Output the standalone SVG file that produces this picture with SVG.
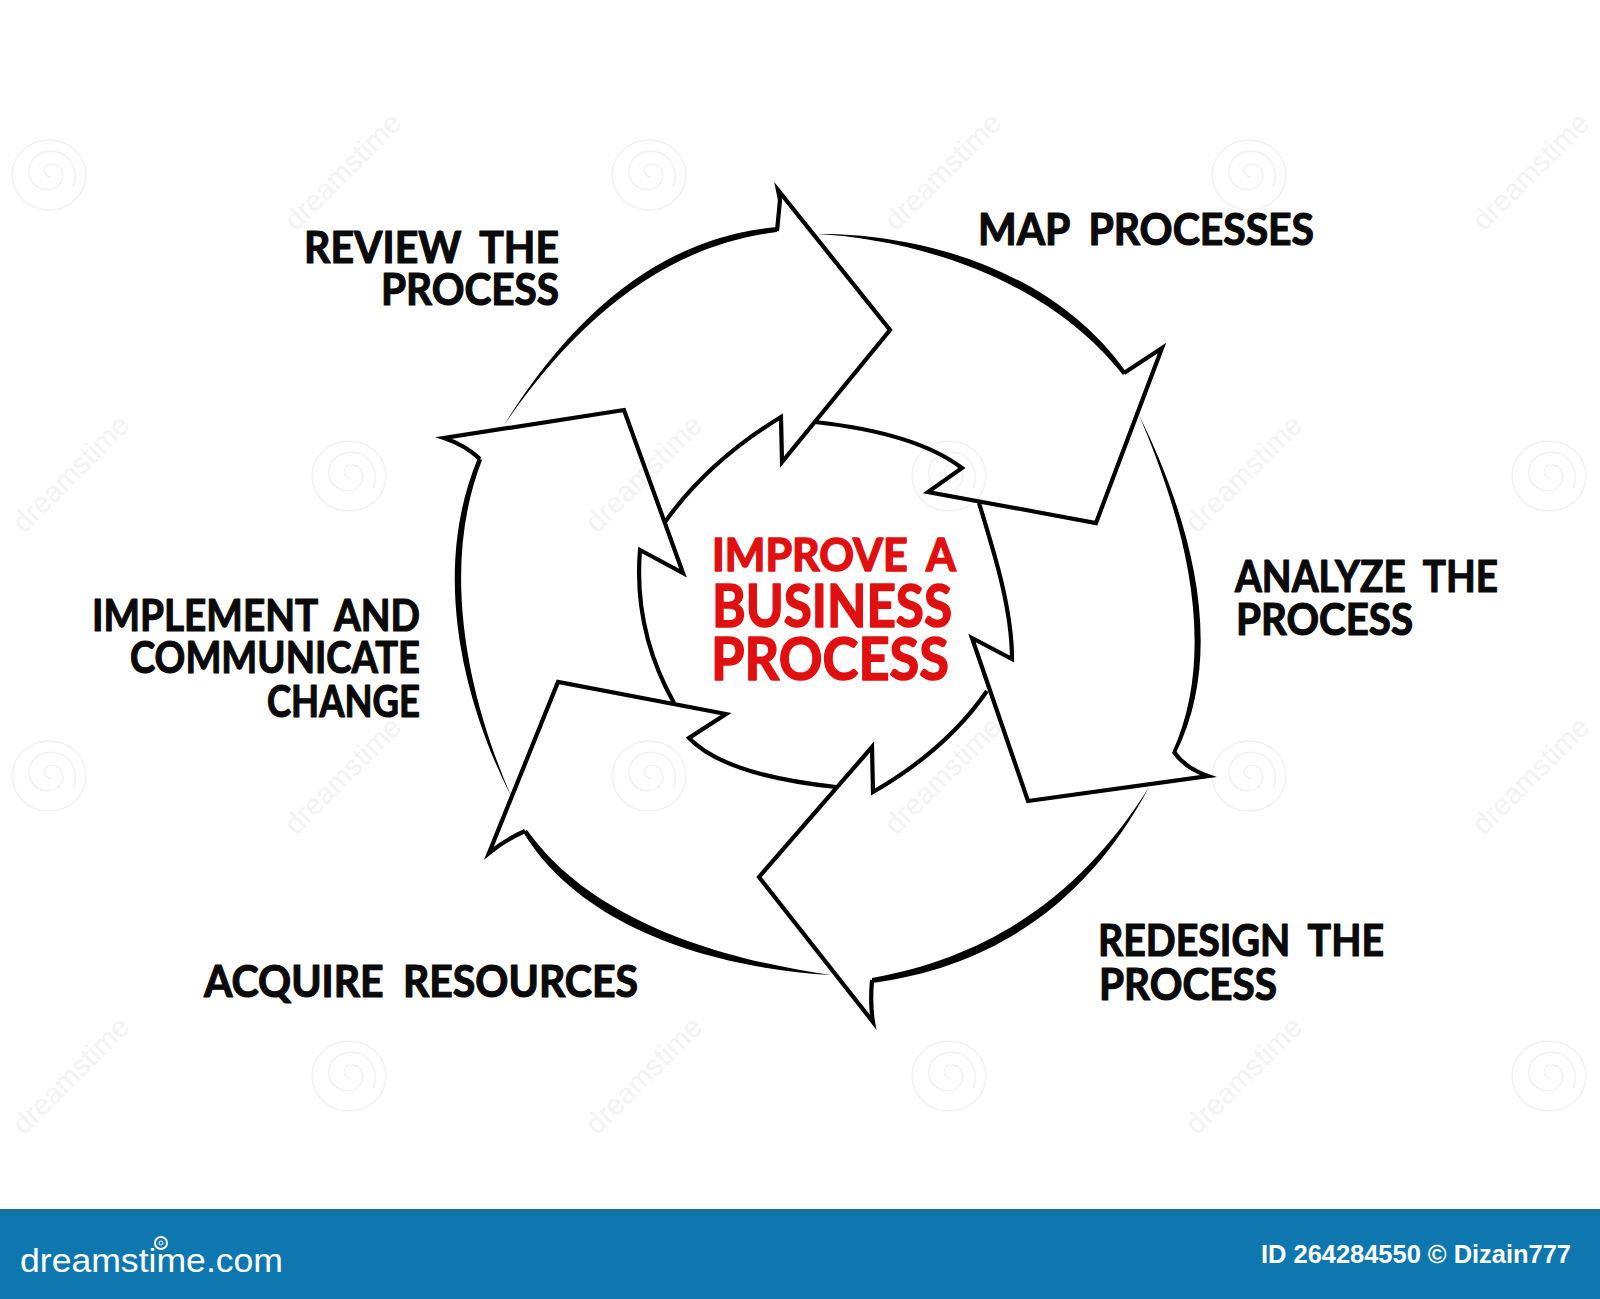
<svg xmlns="http://www.w3.org/2000/svg" xmlns:xlink="http://www.w3.org/1999/xlink" width="1600" height="1299" viewBox="0 0 1600 1299">
<style>
.edge{fill:none;stroke:#000;stroke-width:4.2;stroke-linejoin:miter;stroke-miterlimit:12}
.taper{fill:#000;stroke:none}
.lbl{font-family:"Lato","Liberation Sans",sans-serif;font-weight:700;font-size:44px;fill:#0a0a0a;text-transform:uppercase;stroke:#0a0a0a;stroke-width:1.2;stroke-linejoin:round;word-spacing:10px}
.ctr{font-family:"Lato","Liberation Sans",sans-serif;font-weight:700;fill:#e01010;text-transform:uppercase;stroke:#e01010;stroke-width:1.6;stroke-linejoin:round}
.wm{font-family:"Liberation Sans",sans-serif;font-size:29px;fill:#f3f3f3}
.sp{fill:none;stroke:#f2f2f2;stroke-width:1.5}
.foot{font-family:"Liberation Sans",sans-serif;fill:#fff}
</style>
<defs>
<g id="spiral"><ellipse class="sp" cx="0" cy="0" rx="37" ry="35"/><path class="sp" d="M2,2 C-6,2 -8,-10 2,-11 C14,-12 18,4 8,12 C-4,20 -22,10 -20,-6 C-18,-20 -4,-26 8,-23 C24,-20 30,0 24,12"/></g>
</defs>
<rect width="1600" height="1299" fill="#fff"/>
<g id="watermark">
<use xlink:href="#spiral" x="49" y="175"/><use xlink:href="#spiral" x="649" y="175"/><use xlink:href="#spiral" x="1249" y="175"/>
<use xlink:href="#spiral" x="349" y="476"/><use xlink:href="#spiral" x="949" y="476"/><use xlink:href="#spiral" x="1549" y="476"/>
<use xlink:href="#spiral" x="49" y="776"/><use xlink:href="#spiral" x="649" y="776"/><use xlink:href="#spiral" x="1249" y="776"/>
<use xlink:href="#spiral" x="349" y="1076"/><use xlink:href="#spiral" x="949" y="1076"/><use xlink:href="#spiral" x="1549" y="1076"/>
<text class="wm" transform="translate(296,232) rotate(-45)">dreamstime</text>
<text class="wm" transform="translate(896,232) rotate(-45)">dreamstime</text>
<text class="wm" transform="translate(1484,232) rotate(-45)">dreamstime</text>
<text class="wm" transform="translate(24,534) rotate(-45)">dreamstime</text>
<text class="wm" transform="translate(597,534) rotate(-45)">dreamstime</text>
<text class="wm" transform="translate(1197,534) rotate(-45)">dreamstime</text>
<text class="wm" transform="translate(296,836) rotate(-45)">dreamstime</text>
<text class="wm" transform="translate(896,836) rotate(-45)">dreamstime</text>
<text class="wm" transform="translate(1484,836) rotate(-45)">dreamstime</text>
<text class="wm" transform="translate(24,1136) rotate(-45)">dreamstime</text>
<text class="wm" transform="translate(597,1136) rotate(-45)">dreamstime</text>
<text class="wm" transform="translate(1197,1136) rotate(-45)">dreamstime</text>
</g>
<g id="connectors">
<g id="arrow-review"><path class="taper" d="M504,425 Q618,241 777,227 L777,232 Q624,250 504,425 Z"/><path class="edge" d="M777,231 L780,200 L778,190 L890,330 L782,462 L781,417 C735,445 695,480 665,522"/></g>
<g id="arrow-map"><path class="taper" d="M818,234 C905,233 1048,262 1126,372 L1123,375 C1042,272 905,239 818,234 Z"/><path class="edge" d="M1124,373 L1162,348 L1096,523 L928,492 L962,468 C925,440 870,428 815,422"/></g>
<g id="arrow-analyze"><path class="taper" d="M1139,415 C1181,500 1232,640 1176,753 L1172,753 C1224,640 1175,500 1139,415 Z"/><path class="edge" d="M1174,752 Q1185,768 1208,776 L1028,801 L972,638 L1012,659 C1012,610 995,555 979,503"/></g>
<g id="arrow-redesign"><path class="taper" d="M1149,787 C1093,893 1003,966 872,983 L872,978 C998,956 1087,887 1149,787 Z"/><path class="edge" d="M872,980 Q870,1005 873,1022 L759,877 L872,747 L873,792 C920,765 960,730 987,691"/></g>
<g id="arrow-acquire"><path class="taper" d="M831,975 C728,969 586,935 523,832 L527,830 C594,925 732,961 831,975 Z"/><path class="edge" d="M525,831 Q505,840 489,853 L558,682 L726,714 L689,738 C715,765 770,780 836,787"/></g>
<g id="arrow-implement"><path class="taper" d="M512,798 C462,700 431,570 478,458 L482,460 C439,570 469,700 512,798 Z"/><path class="edge" d="M480,459 Q465,445 444,438 L624,410 L683,573 L640,550 C635,610 650,660 674,703"/></g>
</g>
<g id="node-review"><text class="lbl"><tspan x="304" y="263" textLength="255" lengthAdjust="spacingAndGlyphs">Review the</tspan><tspan x="381" y="305" textLength="178" lengthAdjust="spacingAndGlyphs">process</tspan></text></g>
<g id="node-map"><text class="lbl" x="978" y="245" textLength="336" lengthAdjust="spacingAndGlyphs">Map processes</text></g>
<g id="node-analyze"><text class="lbl"><tspan x="1235" y="592" textLength="263" lengthAdjust="spacingAndGlyphs">Analyze the</tspan><tspan x="1236" y="635" textLength="177" lengthAdjust="spacingAndGlyphs">process</tspan></text></g>
<g id="node-redesign"><text class="lbl"><tspan x="1098" y="956" textLength="286" lengthAdjust="spacingAndGlyphs">Redesign the</tspan><tspan x="1099" y="1000" textLength="178" lengthAdjust="spacingAndGlyphs">process</tspan></text></g>
<g id="node-acquire"><text class="lbl" x="204" y="997" textLength="434" lengthAdjust="spacingAndGlyphs">Acquire resources</text></g>
<g id="node-implement"><text class="lbl"><tspan x="92" y="631" textLength="328" lengthAdjust="spacingAndGlyphs">Implement and</tspan><tspan x="130" y="673" textLength="290" lengthAdjust="spacingAndGlyphs">communicate</tspan><tspan x="267" y="717" textLength="153" lengthAdjust="spacingAndGlyphs">change</tspan></text></g>
<g id="node-center"><text class="ctr"><tspan font-size="46" x="712" y="571" textLength="244" lengthAdjust="spacingAndGlyphs" word-spacing="10">Improve a</tspan><tspan font-size="60" x="712" y="627" textLength="240" lengthAdjust="spacingAndGlyphs">Business</tspan><tspan font-size="60" x="711" y="680" textLength="238" lengthAdjust="spacingAndGlyphs">Process</tspan></text></g>
<g id="footer">
<rect y="1209" width="1600" height="90" fill="#0f77b0"/>
<rect y="1209" width="1600" height="5" fill="#12719e"/>
<text class="foot" x="20" y="1272" font-size="34" textLength="263" lengthAdjust="spacingAndGlyphs">dreamstime.com</text>
<circle cx="161" cy="1243" r="6" fill="none" stroke="#fff" stroke-width="2"/><circle cx="161" cy="1243" r="2" fill="none" stroke="#fff" stroke-width="1"/>
<text class="foot" x="1261" y="1263" font-size="25" font-weight="700" textLength="310" lengthAdjust="spacingAndGlyphs">ID 264284550 © Dizain777</text>
</g>
</svg>
